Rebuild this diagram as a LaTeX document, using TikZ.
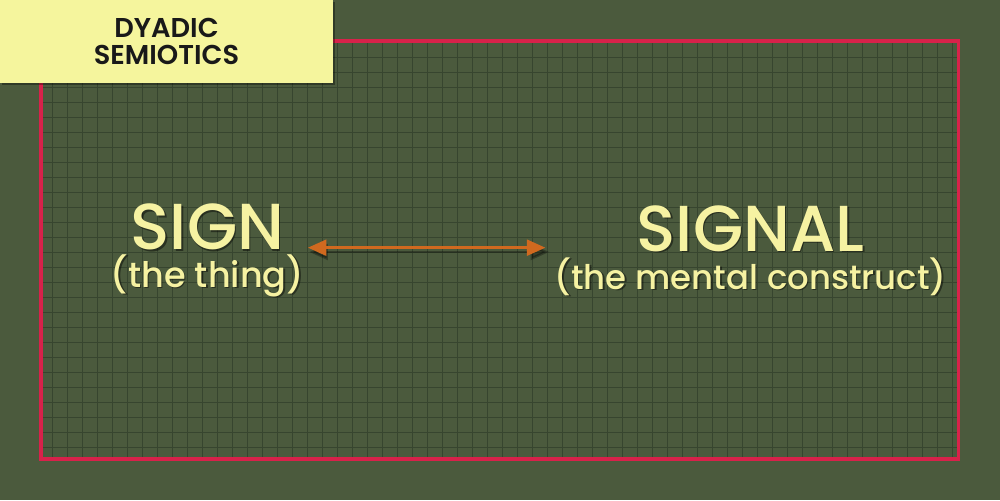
\documentclass[tikz,border=0pt]{standalone}
\usepackage{fontspec}
\newfontfamily\headfont{Poppins}[UprightFont=* SemiBold]
\newfontfamily\labelfont{Poppins}[UprightFont=* Medium]
\usepackage{tikz}
\usetikzlibrary{calc, positioning, arrows.meta, shadows}
\definecolor{boardgreen}{HTML}{4B5A3D}
\definecolor{gridgreen}{HTML}{37452F}
\definecolor{framered}{HTML}{D8224A}
\definecolor{notepaper}{HTML}{F5F59D}
\definecolor{chalkyellow}{HTML}{F6F2A2}
\definecolor{linkorange}{HTML}{D0691F}
\tikzset{
    gridline/.style = {draw=gridgreen, line width=0.45pt},
    frame/.style = {draw=framered, line width=1.8pt},
    titlebox/.style = {rectangle, fill=notepaper, minimum width=333*0.02cm, minimum height=83*0.02cm, inner sep=0pt,
        align=center, text=black!90, font=\headfont\fontsize{15.5}{15.5}\selectfont,
        drop shadow={shadow xshift=1pt, shadow yshift=-1pt, opacity=0.35, fill=black}},
    term/.style = {align=center, inner sep=2pt, text=chalkyellow, font=\labelfont\fontsize{37}{21.5}\selectfont},
    termshadow/.style = {term, text=black, text opacity=0.45},
    link/.style = {draw=linkorange, line width=1.5pt, {Triangle[length=10.5pt, width=9pt]}-{Triangle[length=10.5pt, width=9pt]}}
}
\newcommand{\note}[1]{{\fontsize{20}{21.5}\selectfont #1}}
\newcommand{\longnote}[1]{{\fontsize{19.3}{21.5}\selectfont #1}}
\begin{document}
\begin{tikzpicture}[x=0.02cm, y=0.02cm]
    % board and grid
    \fill[boardgreen] (0,0) rectangle (1000,500);
    \begin{scope}
        \clip (41,41) rectangle (958.5,459);
        \foreach \i in {0,...,66}
            \draw[gridline] (7.5+15*\i,0) -- ++(0,500);
        \foreach \j in {0,...,33}
            \draw[gridline] (0,7.5+15*\j) -- ++(1000,0);
    \end{scope}
    \draw[frame] (41,41) rectangle (958.5,459);

    % heading card
    \node[titlebox] (title) at (166.5,458.5) {DYADIC\\SEMIOTICS};

    % the two terms (with soft shadow behind)
    \node[termshadow] (sign-shade) at (209,248) {SIGN\\\note{(the thing)}};
    \node[term] (sign) at (207.5,249.5) {SIGN\\\note{(the thing)}};
    \node[termshadow] (signal-shade) at (752,248) {SIGNAL\\\longnote{(the mental construct)}};
    \node[term] (signal) at (750.5,249.5) {SIGNAL\\\longnote{(the mental construct)}};

    \draw[link, draw=black, opacity=0.3] ([shift={(1.5,-1.5)}]sign.east) -- ([shift={(-1.5,-1.5)}]signal.west);
    \draw[link, fill=linkorange] ([yshift=1.6pt]sign.east) -- ([xshift=-3pt, yshift=1.6pt]signal.west);
\end{tikzpicture}
\end{document}
